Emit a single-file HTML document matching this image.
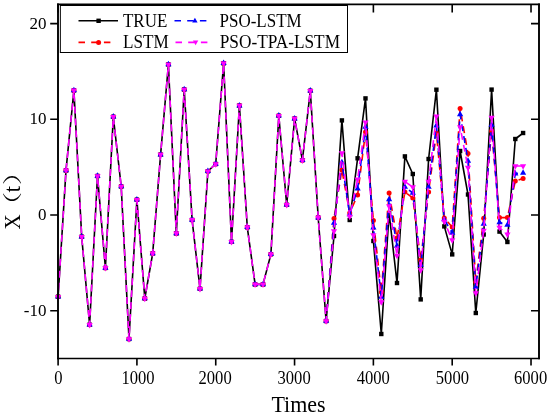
<!DOCTYPE html>
<html><head><meta charset="utf-8"><title>chart</title>
<style>
html,body{margin:0;padding:0;background:#fff}
svg{display:block}
text{font-family:"Liberation Serif","Noto Serif CJK SC",serif;fill:#000}
</style></head><body>
<svg width="550" height="416" viewBox="0 0 550 416">
<rect width="550" height="416" fill="#fff"/>
<g fill="none" stroke-linejoin="round">
<polyline points="58.1,296.7 66.0,170.4 73.9,90.4 81.7,236.7 89.6,324.7 97.5,176.0 105.4,267.9 113.3,116.8 121.2,186.5 129.0,339.0 136.9,199.7 144.8,298.5 152.7,253.4 160.6,154.6 168.4,64.5 176.3,233.4 184.2,89.5 192.1,219.9 200.0,288.8 207.9,171.2 215.7,164.0 223.6,63.3 231.5,241.8 239.4,105.6 247.3,227.3 255.1,284.4 263.0,284.4 270.9,254.2 278.8,115.8 286.7,204.8 294.6,118.6 302.4,160.2 310.3,90.8 318.2,217.6 326.1,321.0 334.0,236.0 341.9,120.4 349.7,220.0 357.6,158.3 365.5,98.4 373.4,241.0 381.3,334.0 389.1,213.0 397.0,283.0 404.9,156.4 412.8,174.0 420.7,299.4 428.6,159.0 436.4,89.7 444.3,226.4 452.2,254.4 460.1,151.0 468.0,194.5 475.8,313.0 483.7,234.5 491.6,89.6 499.5,231.6 507.4,242.0 515.3,139.0 523.1,133.0" stroke="#000" stroke-width="1.6"/>
<g fill="#000"><rect x="55.9" y="294.5" width="4.4" height="4.4"/><rect x="63.8" y="168.2" width="4.4" height="4.4"/><rect x="71.7" y="88.2" width="4.4" height="4.4"/><rect x="79.5" y="234.5" width="4.4" height="4.4"/><rect x="87.4" y="322.5" width="4.4" height="4.4"/><rect x="95.3" y="173.8" width="4.4" height="4.4"/><rect x="103.2" y="265.7" width="4.4" height="4.4"/><rect x="111.1" y="114.6" width="4.4" height="4.4"/><rect x="119.0" y="184.3" width="4.4" height="4.4"/><rect x="126.8" y="336.8" width="4.4" height="4.4"/><rect x="134.7" y="197.5" width="4.4" height="4.4"/><rect x="142.6" y="296.3" width="4.4" height="4.4"/><rect x="150.5" y="251.2" width="4.4" height="4.4"/><rect x="158.4" y="152.4" width="4.4" height="4.4"/><rect x="166.2" y="62.3" width="4.4" height="4.4"/><rect x="174.1" y="231.2" width="4.4" height="4.4"/><rect x="182.0" y="87.3" width="4.4" height="4.4"/><rect x="189.9" y="217.7" width="4.4" height="4.4"/><rect x="197.8" y="286.6" width="4.4" height="4.4"/><rect x="205.7" y="169.0" width="4.4" height="4.4"/><rect x="213.5" y="161.8" width="4.4" height="4.4"/><rect x="221.4" y="61.1" width="4.4" height="4.4"/><rect x="229.3" y="239.6" width="4.4" height="4.4"/><rect x="237.2" y="103.4" width="4.4" height="4.4"/><rect x="245.1" y="225.1" width="4.4" height="4.4"/><rect x="252.9" y="282.2" width="4.4" height="4.4"/><rect x="260.8" y="282.2" width="4.4" height="4.4"/><rect x="268.7" y="252.0" width="4.4" height="4.4"/><rect x="276.6" y="113.6" width="4.4" height="4.4"/><rect x="284.5" y="202.6" width="4.4" height="4.4"/><rect x="292.4" y="116.4" width="4.4" height="4.4"/><rect x="300.2" y="158.0" width="4.4" height="4.4"/><rect x="308.1" y="88.6" width="4.4" height="4.4"/><rect x="316.0" y="215.4" width="4.4" height="4.4"/><rect x="323.9" y="318.8" width="4.4" height="4.4"/><rect x="331.8" y="233.8" width="4.4" height="4.4"/><rect x="339.7" y="118.2" width="4.4" height="4.4"/><rect x="347.5" y="217.8" width="4.4" height="4.4"/><rect x="355.4" y="156.1" width="4.4" height="4.4"/><rect x="363.3" y="96.2" width="4.4" height="4.4"/><rect x="371.2" y="238.8" width="4.4" height="4.4"/><rect x="379.1" y="331.8" width="4.4" height="4.4"/><rect x="386.9" y="210.8" width="4.4" height="4.4"/><rect x="394.8" y="280.8" width="4.4" height="4.4"/><rect x="402.7" y="154.2" width="4.4" height="4.4"/><rect x="410.6" y="171.8" width="4.4" height="4.4"/><rect x="418.5" y="297.2" width="4.4" height="4.4"/><rect x="426.4" y="156.8" width="4.4" height="4.4"/><rect x="434.2" y="87.5" width="4.4" height="4.4"/><rect x="442.1" y="224.2" width="4.4" height="4.4"/><rect x="450.0" y="252.2" width="4.4" height="4.4"/><rect x="457.9" y="148.8" width="4.4" height="4.4"/><rect x="465.8" y="192.3" width="4.4" height="4.4"/><rect x="473.6" y="310.8" width="4.4" height="4.4"/><rect x="481.5" y="232.3" width="4.4" height="4.4"/><rect x="489.4" y="87.4" width="4.4" height="4.4"/><rect x="497.3" y="229.4" width="4.4" height="4.4"/><rect x="505.2" y="239.8" width="4.4" height="4.4"/><rect x="513.1" y="136.8" width="4.4" height="4.4"/><rect x="520.9" y="130.8" width="4.4" height="4.4"/></g>
<polyline points="326.1,321.0 334.0,218.4 341.9,170.0 349.7,213.0 357.6,195.0 365.5,132.0 373.4,220.5 381.3,292.0 389.1,193.0 397.0,238.0 404.9,192.0 412.8,198.0 420.7,260.0 428.6,192.0 436.4,133.0 444.3,218.0 452.2,227.0 460.1,108.4 468.0,153.6 475.8,282.0 483.7,218.3 491.6,131.0 499.5,217.6 507.4,217.6 515.3,181.0 523.1,178.4" stroke="#ff0000" stroke-width="1.6" stroke-dasharray="7 5" stroke-dashoffset="2.06"/>
<g fill="#ff0000"><circle cx="58.1" cy="296.7" r="2.5"/><circle cx="66.0" cy="170.4" r="2.5"/><circle cx="73.9" cy="90.4" r="2.5"/><circle cx="81.7" cy="236.7" r="2.5"/><circle cx="89.6" cy="324.7" r="2.5"/><circle cx="97.5" cy="176.0" r="2.5"/><circle cx="105.4" cy="267.9" r="2.5"/><circle cx="113.3" cy="116.8" r="2.5"/><circle cx="121.2" cy="186.5" r="2.5"/><circle cx="129.0" cy="339.0" r="2.5"/><circle cx="136.9" cy="199.7" r="2.5"/><circle cx="144.8" cy="298.5" r="2.5"/><circle cx="152.7" cy="253.4" r="2.5"/><circle cx="160.6" cy="154.6" r="2.5"/><circle cx="168.4" cy="64.5" r="2.5"/><circle cx="176.3" cy="233.4" r="2.5"/><circle cx="184.2" cy="89.5" r="2.5"/><circle cx="192.1" cy="219.9" r="2.5"/><circle cx="200.0" cy="288.8" r="2.5"/><circle cx="207.9" cy="171.2" r="2.5"/><circle cx="215.7" cy="164.0" r="2.5"/><circle cx="223.6" cy="63.3" r="2.5"/><circle cx="231.5" cy="241.8" r="2.5"/><circle cx="239.4" cy="105.6" r="2.5"/><circle cx="247.3" cy="227.3" r="2.5"/><circle cx="255.1" cy="284.4" r="2.5"/><circle cx="263.0" cy="284.4" r="2.5"/><circle cx="270.9" cy="254.2" r="2.5"/><circle cx="278.8" cy="115.8" r="2.5"/><circle cx="286.7" cy="204.8" r="2.5"/><circle cx="294.6" cy="118.6" r="2.5"/><circle cx="302.4" cy="160.2" r="2.5"/><circle cx="310.3" cy="90.8" r="2.5"/><circle cx="318.2" cy="217.6" r="2.5"/><circle cx="326.1" cy="321.0" r="2.5"/><circle cx="334.0" cy="218.4" r="2.5"/><circle cx="341.9" cy="170.0" r="2.5"/><circle cx="349.7" cy="213.0" r="2.5"/><circle cx="357.6" cy="195.0" r="2.5"/><circle cx="365.5" cy="132.0" r="2.5"/><circle cx="373.4" cy="220.5" r="2.5"/><circle cx="381.3" cy="292.0" r="2.5"/><circle cx="389.1" cy="193.0" r="2.5"/><circle cx="397.0" cy="238.0" r="2.5"/><circle cx="404.9" cy="192.0" r="2.5"/><circle cx="412.8" cy="198.0" r="2.5"/><circle cx="420.7" cy="260.0" r="2.5"/><circle cx="428.6" cy="192.0" r="2.5"/><circle cx="436.4" cy="133.0" r="2.5"/><circle cx="444.3" cy="218.0" r="2.5"/><circle cx="452.2" cy="227.0" r="2.5"/><circle cx="460.1" cy="108.4" r="2.5"/><circle cx="468.0" cy="153.6" r="2.5"/><circle cx="475.8" cy="282.0" r="2.5"/><circle cx="483.7" cy="218.3" r="2.5"/><circle cx="491.6" cy="131.0" r="2.5"/><circle cx="499.5" cy="217.6" r="2.5"/><circle cx="507.4" cy="217.6" r="2.5"/><circle cx="515.3" cy="181.0" r="2.5"/><circle cx="523.1" cy="178.4" r="2.5"/></g>
<polyline points="326.1,321.0 334.0,223.0 341.9,162.4 349.7,214.5 357.6,188.7 365.5,127.0 373.4,227.7 381.3,297.0 389.1,199.4 397.0,246.0 404.9,187.0 412.8,193.0 420.7,265.0 428.6,187.0 436.4,125.7 444.3,219.5 452.2,233.0 460.1,114.4 468.0,161.0 475.8,287.0 483.7,224.0 491.6,125.0 499.5,222.4 507.4,225.0 515.3,173.6 523.1,173.0" stroke="#0000ff" stroke-width="1.6" stroke-dasharray="7 5" stroke-dashoffset="2.06"/>
<g fill="#0000ff"><path d="M55.0 298.5L61.2 298.5L58.1 293.0Z"/><path d="M62.9 172.2L69.1 172.2L66.0 166.7Z"/><path d="M70.8 92.2L77.0 92.2L73.9 86.7Z"/><path d="M78.6 238.5L84.8 238.5L81.7 233.0Z"/><path d="M86.5 326.5L92.7 326.5L89.6 321.0Z"/><path d="M94.4 177.8L100.6 177.8L97.5 172.3Z"/><path d="M102.3 269.7L108.5 269.7L105.4 264.2Z"/><path d="M110.2 118.6L116.4 118.6L113.3 113.1Z"/><path d="M118.1 188.3L124.3 188.3L121.2 182.8Z"/><path d="M125.9 340.8L132.1 340.8L129.0 335.3Z"/><path d="M133.8 201.5L140.0 201.5L136.9 196.0Z"/><path d="M141.7 300.3L147.9 300.3L144.8 294.8Z"/><path d="M149.6 255.2L155.8 255.2L152.7 249.7Z"/><path d="M157.5 156.4L163.7 156.4L160.6 150.9Z"/><path d="M165.3 66.3L171.5 66.3L168.4 60.8Z"/><path d="M173.2 235.2L179.4 235.2L176.3 229.7Z"/><path d="M181.1 91.3L187.3 91.3L184.2 85.8Z"/><path d="M189.0 221.7L195.2 221.7L192.1 216.2Z"/><path d="M196.9 290.6L203.1 290.6L200.0 285.1Z"/><path d="M204.8 173.0L211.0 173.0L207.9 167.5Z"/><path d="M212.6 165.8L218.8 165.8L215.7 160.3Z"/><path d="M220.5 65.1L226.7 65.1L223.6 59.6Z"/><path d="M228.4 243.6L234.6 243.6L231.5 238.1Z"/><path d="M236.3 107.4L242.5 107.4L239.4 101.9Z"/><path d="M244.2 229.1L250.4 229.1L247.3 223.6Z"/><path d="M252.0 286.2L258.2 286.2L255.1 280.7Z"/><path d="M259.9 286.2L266.1 286.2L263.0 280.7Z"/><path d="M267.8 256.0L274.0 256.0L270.9 250.5Z"/><path d="M275.7 117.6L281.9 117.6L278.8 112.1Z"/><path d="M283.6 206.6L289.8 206.6L286.7 201.1Z"/><path d="M291.5 120.4L297.7 120.4L294.6 114.9Z"/><path d="M299.3 162.0L305.5 162.0L302.4 156.5Z"/><path d="M307.2 92.6L313.4 92.6L310.3 87.1Z"/><path d="M315.1 219.4L321.3 219.4L318.2 213.9Z"/><path d="M323.0 322.8L329.2 322.8L326.1 317.3Z"/><path d="M330.9 224.8L337.1 224.8L334.0 219.3Z"/><path d="M338.8 164.2L345.0 164.2L341.9 158.7Z"/><path d="M346.6 216.3L352.8 216.3L349.7 210.8Z"/><path d="M354.5 190.5L360.7 190.5L357.6 185.0Z"/><path d="M362.4 128.8L368.6 128.8L365.5 123.3Z"/><path d="M370.3 229.5L376.5 229.5L373.4 224.0Z"/><path d="M378.2 298.8L384.4 298.8L381.3 293.3Z"/><path d="M386.0 201.2L392.2 201.2L389.1 195.7Z"/><path d="M393.9 247.8L400.1 247.8L397.0 242.3Z"/><path d="M401.8 188.8L408.0 188.8L404.9 183.3Z"/><path d="M409.7 194.8L415.9 194.8L412.8 189.3Z"/><path d="M417.6 266.8L423.8 266.8L420.7 261.3Z"/><path d="M425.5 188.8L431.7 188.8L428.6 183.3Z"/><path d="M433.3 127.5L439.5 127.5L436.4 122.0Z"/><path d="M441.2 221.3L447.4 221.3L444.3 215.8Z"/><path d="M449.1 234.8L455.3 234.8L452.2 229.3Z"/><path d="M457.0 116.2L463.2 116.2L460.1 110.7Z"/><path d="M464.9 162.8L471.1 162.8L468.0 157.3Z"/><path d="M472.7 288.8L478.9 288.8L475.8 283.3Z"/><path d="M480.6 225.8L486.8 225.8L483.7 220.3Z"/><path d="M488.5 126.8L494.7 126.8L491.6 121.3Z"/><path d="M496.4 224.2L502.6 224.2L499.5 218.7Z"/><path d="M504.3 226.8L510.5 226.8L507.4 221.3Z"/><path d="M512.2 175.4L518.4 175.4L515.3 169.9Z"/><path d="M520.0 174.8L526.2 174.8L523.1 169.3Z"/></g>
<polyline points="58.1,296.7 66.0,170.4 73.9,90.4 81.7,236.7 89.6,324.7 97.5,176.0 105.4,267.9 113.3,116.8 121.2,186.5 129.0,339.0 136.9,199.7 144.8,298.5 152.7,253.4 160.6,154.6 168.4,64.5 176.3,233.4 184.2,89.5 192.1,219.9 200.0,288.8 207.9,171.2 215.7,164.0 223.6,63.3 231.5,241.8 239.4,105.6 247.3,227.3 255.1,284.4 263.0,284.4 270.9,254.2 278.8,115.8 286.7,204.8 294.6,118.6 302.4,160.2 310.3,90.8 318.2,217.6 326.1,321.0 334.0,231.0 341.9,153.0 349.7,216.5 357.6,179.3 365.5,122.4 373.4,235.0 381.3,302.0 389.1,206.0 397.0,255.6 404.9,181.6 412.8,187.0 420.7,270.0 428.6,181.6 436.4,116.3 444.3,221.6 452.2,240.0 460.1,127.0 468.0,167.6 475.8,293.0 483.7,230.6 491.6,117.6 499.5,227.6 507.4,234.4 515.3,166.0 523.1,166.0" stroke="#ff00ff" stroke-width="1.6" stroke-dasharray="7 5" stroke-dashoffset="5.0"/>
<g fill="#ff00ff"><path d="M55.0 294.9L61.2 294.9L58.1 300.4Z"/><path d="M62.9 168.6L69.1 168.6L66.0 174.1Z"/><path d="M70.8 88.6L77.0 88.6L73.9 94.1Z"/><path d="M78.6 234.9L84.8 234.9L81.7 240.4Z"/><path d="M86.5 322.9L92.7 322.9L89.6 328.4Z"/><path d="M94.4 174.2L100.6 174.2L97.5 179.7Z"/><path d="M102.3 266.1L108.5 266.1L105.4 271.6Z"/><path d="M110.2 115.0L116.4 115.0L113.3 120.5Z"/><path d="M118.1 184.7L124.3 184.7L121.2 190.2Z"/><path d="M125.9 337.2L132.1 337.2L129.0 342.7Z"/><path d="M133.8 197.9L140.0 197.9L136.9 203.4Z"/><path d="M141.7 296.7L147.9 296.7L144.8 302.2Z"/><path d="M149.6 251.6L155.8 251.6L152.7 257.1Z"/><path d="M157.5 152.8L163.7 152.8L160.6 158.3Z"/><path d="M165.3 62.7L171.5 62.7L168.4 68.2Z"/><path d="M173.2 231.6L179.4 231.6L176.3 237.1Z"/><path d="M181.1 87.7L187.3 87.7L184.2 93.2Z"/><path d="M189.0 218.1L195.2 218.1L192.1 223.6Z"/><path d="M196.9 287.0L203.1 287.0L200.0 292.5Z"/><path d="M204.8 169.4L211.0 169.4L207.9 174.9Z"/><path d="M212.6 162.2L218.8 162.2L215.7 167.7Z"/><path d="M220.5 61.5L226.7 61.5L223.6 67.0Z"/><path d="M228.4 240.0L234.6 240.0L231.5 245.5Z"/><path d="M236.3 103.8L242.5 103.8L239.4 109.3Z"/><path d="M244.2 225.5L250.4 225.5L247.3 231.0Z"/><path d="M252.0 282.6L258.2 282.6L255.1 288.1Z"/><path d="M259.9 282.6L266.1 282.6L263.0 288.1Z"/><path d="M267.8 252.4L274.0 252.4L270.9 257.9Z"/><path d="M275.7 114.0L281.9 114.0L278.8 119.5Z"/><path d="M283.6 203.0L289.8 203.0L286.7 208.5Z"/><path d="M291.5 116.8L297.7 116.8L294.6 122.3Z"/><path d="M299.3 158.4L305.5 158.4L302.4 163.9Z"/><path d="M307.2 89.0L313.4 89.0L310.3 94.5Z"/><path d="M315.1 215.8L321.3 215.8L318.2 221.3Z"/><path d="M323.0 319.2L329.2 319.2L326.1 324.7Z"/><path d="M330.9 229.2L337.1 229.2L334.0 234.7Z"/><path d="M338.8 151.2L345.0 151.2L341.9 156.7Z"/><path d="M346.6 214.7L352.8 214.7L349.7 220.2Z"/><path d="M354.5 177.5L360.7 177.5L357.6 183.0Z"/><path d="M362.4 120.6L368.6 120.6L365.5 126.1Z"/><path d="M370.3 233.2L376.5 233.2L373.4 238.7Z"/><path d="M378.2 300.2L384.4 300.2L381.3 305.7Z"/><path d="M386.0 204.2L392.2 204.2L389.1 209.7Z"/><path d="M393.9 253.8L400.1 253.8L397.0 259.3Z"/><path d="M401.8 179.8L408.0 179.8L404.9 185.3Z"/><path d="M409.7 185.2L415.9 185.2L412.8 190.7Z"/><path d="M417.6 268.2L423.8 268.2L420.7 273.7Z"/><path d="M425.5 179.8L431.7 179.8L428.6 185.3Z"/><path d="M433.3 114.5L439.5 114.5L436.4 120.0Z"/><path d="M441.2 219.8L447.4 219.8L444.3 225.3Z"/><path d="M449.1 238.2L455.3 238.2L452.2 243.7Z"/><path d="M457.0 125.2L463.2 125.2L460.1 130.7Z"/><path d="M464.9 165.8L471.1 165.8L468.0 171.3Z"/><path d="M472.7 291.2L478.9 291.2L475.8 296.7Z"/><path d="M480.6 228.8L486.8 228.8L483.7 234.3Z"/><path d="M488.5 115.8L494.7 115.8L491.6 121.3Z"/><path d="M496.4 225.8L502.6 225.8L499.5 231.3Z"/><path d="M504.3 232.6L510.5 232.6L507.4 238.1Z"/><path d="M512.2 164.2L518.4 164.2L515.3 169.7Z"/><path d="M520.0 164.2L526.2 164.2L523.1 169.7Z"/></g>
</g>
<path d="M58.0 3.5500000000000003V359.35M539.0 3.5500000000000003V359.35" fill="none" stroke="#000" stroke-width="1.9"/>
<path d="M57.05 4.4H539.95M57.05 358.5H539.95" fill="none" stroke="#000" stroke-width="1.7"/>
<g stroke="#000" stroke-width="1.6" fill="none"><path d="M50.2 23.6H58.0M531.0 23.6H539.0"/><path d="M50.2 119.3H58.0M531.0 119.3H539.0"/><path d="M50.2 215H58.0M531.0 215H539.0"/><path d="M50.2 310.7H58.0M531.0 310.7H539.0"/><path d="M58.10 358.5V365.6M58.10 4.4V12.4"/><path d="M136.92 358.5V365.6M136.92 4.4V12.4"/><path d="M215.74 358.5V365.6M215.74 4.4V12.4"/><path d="M294.56 358.5V365.6M294.56 4.4V12.4"/><path d="M373.38 358.5V365.6M373.38 4.4V12.4"/><path d="M452.20 358.5V365.6M452.20 4.4V12.4"/><path d="M531.02 358.5V365.6M531.02 4.4V12.4"/></g>
<g font-size="16.6"><text transform="translate(46.4,28.6) scale(1,1.04)" font-size="17" text-anchor="end">20</text><text transform="translate(46.4,124.3) scale(1,1.04)" font-size="17" text-anchor="end">10</text><text transform="translate(46.4,220.0) scale(1,1.04)" font-size="17" text-anchor="end">0</text><text transform="translate(46.4,315.7) scale(1,1.04)" font-size="17" text-anchor="end">-10</text><text transform="translate(58.3,383.8) scale(1,1.085)" text-anchor="middle">0</text><text transform="translate(138.0,383.8) scale(1,1.085)" text-anchor="middle">1000</text><text transform="translate(215.1,383.8) scale(1,1.085)" text-anchor="middle">2000</text><text transform="translate(294.1,383.8) scale(1,1.085)" text-anchor="middle">3000</text><text transform="translate(373.3,383.8) scale(1,1.085)" text-anchor="middle">4000</text><text transform="translate(452.4,383.8) scale(1,1.085)" text-anchor="middle">5000</text><text transform="translate(530.6,383.8) scale(1,1.085)" text-anchor="middle">6000</text></g>
<text transform="translate(298.5,412.2) scale(1,1.05)" font-size="22" text-anchor="middle">Times</text>
<text transform="translate(20.3,229.6) rotate(-90) scale(1,1.13)" font-size="21">X</text>
<text transform="translate(19.8,218.3) rotate(-90) scale(1.2,0.88)" font-size="22">（</text>
<text transform="translate(20.3,192.4) rotate(-90) scale(1.1,1.1)" font-size="21.5">t</text>
<text transform="translate(19.8,185.2) rotate(-90) scale(1.2,0.88)" font-size="22">）</text>
<rect x="60.35" y="5.5" width="287.15" height="47" fill="#fff" stroke="#000" stroke-width="1"/>
<g font-size="17">
<text transform="translate(123,27.1) scale(1,1.06)">TRUE</text>
<text transform="translate(123,47.9) scale(1.01,1.06)">LSTM</text>
<text transform="translate(219.5,27.1) scale(1,1.06)">PSO-LSTM</text>
<text transform="translate(219.7,47.9) scale(1.017,1.06)">PSO-TPA-LSTM</text>
</g>
<g fill="none" stroke-width="1.6">
<path d="M78.5 20.8H118" stroke="#000" stroke-width="1.6"/>
<path d="M78.5 42.4H111" stroke="#ff0000" stroke-dasharray="6.5 6.2"/>
<path d="M174.5 20.8H207" stroke="#0000ff" stroke-dasharray="6.5 6.2"/>
<path d="M175.5 42.4H208" stroke="#ff00ff" stroke-dasharray="6.5 6.2"/>
</g>
<rect x="96.4" y="18.6" width="4.4" height="4.4" fill="#000"/>
<circle cx="98.6" cy="42.4" r="2.5" fill="#ff0000"/>
<path d="M192.2 22.4L197.6 22.4L194.9 17.7Z" fill="#0000ff"/>
<path d="M192.9 40.5L198.3 40.5L195.6 45.3Z" fill="#ff00ff"/>
</svg>
</body></html>
